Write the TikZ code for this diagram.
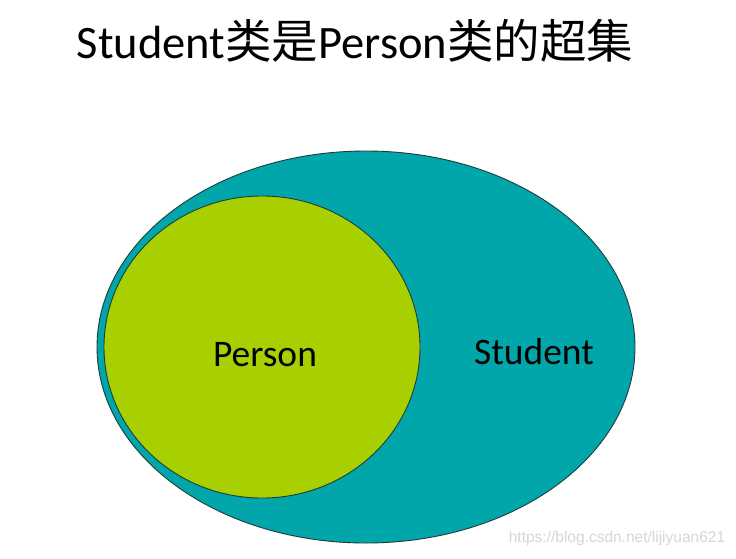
\documentclass[tikz,border=0pt]{standalone}
\usepackage{fontspec}
\setmainfont{Carlito}
\newfontfamily\cjk{Noto Sans CJK SC}
\newfontfamily\markfont{Liberation Sans}
\usetikzlibrary{shapes.geometric}

\definecolor{tealset}{RGB}{0,166,170}
\definecolor{limeset}{RGB}{168,208,0}
\definecolor{rimline}{RGB}{30,60,60}

\tikzstyle{set} = [ellipse,draw=rimline,line width=0.9pt,inner sep=0pt]
\tikzstyle{setname} = [font=\fontsize{37.5}{42}\selectfont]

\begin{document}
\begin{tikzpicture}[x=1pt,y=-1pt]
	\useasboundingbox[fill=white] (0,0) rectangle (736,558);
	\node (title) at (355,41) {\fontsize{46.5}{50}\selectfont Student{\cjk 类是}Person{\cjk 类的超集}};
	
	\node[set,fill=tealset,minimum width=538pt,minimum height=392pt] (student) at (366,347) {};
	\node[set,fill=limeset,minimum width=316pt,minimum height=302pt] (person) at (262,347) {};
	
	\node[setname] (personlbl) at (265,355) {Person};
	\node[setname] (studentlbl) at (534,352) {Student};
	
	\node[text=black!16,font=\markfont\fontsize{15.5}{17}\selectfont] (mark) at (617,538) {https://blog.csdn.net/lijiyuan621};
\end{tikzpicture}
\end{document}
